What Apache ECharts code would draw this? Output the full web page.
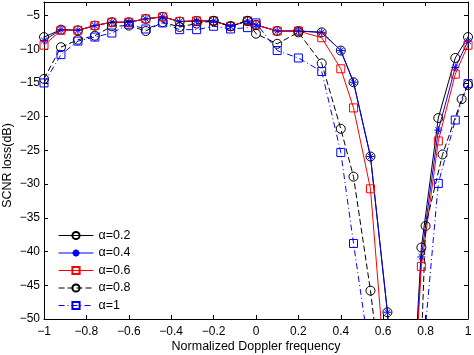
<!DOCTYPE html>
<html>
<head>
<meta charset="utf-8">
<script src="https://cdn.jsdelivr.net/npm/echarts@6/dist/echarts.min.js"></script>
<style>
html,body{margin:0;padding:0;background:#fff;}
#chart{width:474px;height:355px;}
</style>
</head>
<body>
<div id="chart"></div>
<script>
// Normalized Doppler frequency sample positions
const xMain = [-1, -0.92, -0.84, -0.76, -0.68, -0.6, -0.52, -0.44, -0.36, -0.28, -0.2, -0.12, -0.04, 0, 0.1, 0.2, 0.31, 0.4, 0.46, 0.54, 0.62, 0.70, 0.78, 0.86, 0.94, 1];
const xAlt  = [-1, -0.92, -0.84, -0.76, -0.68, -0.6, -0.52, -0.44, -0.36, -0.28, -0.2, -0.12, -0.04, 0, 0.1, 0.2, 0.31, 0.4, 0.46, 0.54, 0.62, 0.72, 0.80, 0.88, 0.97, 1];

// SCNR loss (dB) per alpha
const y02 = [-8.2, -7.1, -7.2, -6.5, -6.0, -6.0, -5.5, -5.2, -5.9, -5.8, -5.8, -6.6, -5.8, -6.4, -7.3, -7.3, -7.5, -10.2, -14.9, -25.9, -49.0, -85, -39.4, -20.2, -11.3, -8.2];
const y04 = [-8.7, -7.1, -7.2, -6.5, -6.0, -6.0, -5.5, -5.2, -5.9, -5.8, -5.8, -6.6, -5.8, -6.4, -7.3, -7.3, -7.5, -10.2, -14.9, -25.9, -49.0, -85, -40.8, -22.0, -12.7, -8.8];
const y06 = [-9.4, -7.2, -7.2, -6.5, -6.0, -6.0, -5.5, -5.2, -5.9, -5.8, -5.8, -6.6, -5.8, -6.4, -7.3, -7.3, -8.3, -12.9, -18.7, -30.7, -62, -86, -42.2, -23.6, -13.7, -9.4];
const y08 = [-14.4, -9.7, -8.6, -8.0, -6.6, -6.5, -7.3, -6.0, -6.7, -6.2, -5.8, -6.6, -5.8, -7.7, -9.2, -7.5, -12.1, -21.8, -28.9, -45.8, -66.5, -107, -36.2, -25.6, -17.4, -15.3];
const y10 = [-15.0, -10.8, -8.8, -8.2, -7.6, -6.3, -7.0, -6.1, -7.1, -7.1, -6.6, -7.0, -6.8, -6.1, -10.2, -11.3, -13.3, -25.3, -38.8, -56, -80, -85, -58, -29.9, -20.5, -15.1];

const seriesNames = ['α=0.2', 'α=0.4', 'α=0.6', 'α=0.8', 'α=1'];

const xLabel = 'Normalized Doppler frequency';
const yLabel = 'SCNR loss(dB)';

const FONT = 'Liberation Sans, Arial, Helvetica, sans-serif';
const STAR = 'path://M0,-5L0,5M-5,0L5,0M-3.5,-3.5L3.5,3.5M-3.5,3.5L3.5,-3.5';

function pairs(xs, ys) { return xs.map((x, i) => [x, ys[i]]); }
function fmt(v) {
  const r = Math.round(v * 10) / 10;
  return String(r).replace('-', '\u2212');
}

function mk(name, xs, ys, color, symbol, size, dash) {
  return {
    name: name,
    type: 'line',
    data: pairs(xs, ys),
    symbol: symbol,
    symbolSize: size,
    symbolKeepAspect: true,
    showSymbol: true,
    clip: true,
    animation: false,
    lineStyle: { color: color, width: 1, type: dash },
    itemStyle: { color: 'transparent', borderColor: color, borderWidth: 1 },
    emphasis: { disabled: true }
  };
}

const chart = echarts.init(document.getElementById('chart'), null, { renderer: 'canvas' });
const axisCommon = {
  axisLine: { show: true, onZero: false, lineStyle: { color: '#000', width: 1 } },
  axisTick: { show: true, inside: true, length: 4, lineStyle: { color: '#000' } },
  splitLine: { show: false }
};

chart.setOption({
  animation: false,
  backgroundColor: '#fff',
  textStyle: { fontFamily: FONT },
  grid: { left: 44, right: 6, top: 2, bottom: 36, containLabel: false, outerBoundsMode: 'none' },
  xAxis: [
    Object.assign({
      type: 'value', min: -1, max: 1, interval: 0.2, position: 'bottom',
      name: xLabel, nameLocation: 'middle', nameGap: 21, nameMoveOverlap: false,
      nameTextStyle: { fontSize: 12.5, color: '#000', fontFamily: FONT },
      axisLabel: { show: true, margin: 7, fontSize: 12, color: '#000', fontFamily: FONT, formatter: fmt }
    }, axisCommon),
    Object.assign({
      type: 'value', min: -1, max: 1, interval: 0.2, position: 'top',
      axisLabel: { show: false }
    }, axisCommon)
  ],
  yAxis: [
    Object.assign({
      type: 'value', min: -50, max: -3, interval: 5, position: 'left',
      name: yLabel, nameLocation: 'middle', nameGap: 30, nameMoveOverlap: false,
      nameTextStyle: { fontSize: 12.5, color: '#000', fontFamily: FONT, padding: [0, 10, 0, 0] },
      axisLabel: { show: true, margin: 4, fontSize: 12, color: '#000', fontFamily: FONT, formatter: fmt, showMaxLabel: false }
    }, axisCommon),
    Object.assign({
      type: 'value', min: -50, max: -3, interval: 5, position: 'right',
      axisLabel: { show: false }
    }, axisCommon)
  ],
  legend: {
    orient: 'vertical',
    left: 58, top: 229,
    padding: 0,
    itemWidth: 35, itemHeight: 9, itemGap: 4.5,
    selectedMode: false,
    lineStyle: { width: 1 },
    textStyle: { fontSize: 12.5, color: '#000', fontFamily: FONT },
    data: seriesNames
  },
  series: [
    mk(seriesNames[0], xMain, y02, '#000000', 'circle', 9, 'solid'),
    mk(seriesNames[1], xMain, y04, '#0000ff', STAR, 8, 'solid'),
    mk(seriesNames[2], xMain, y06, '#ff0000', 'rect', 8, 'solid'),
    mk(seriesNames[3], xAlt, y08, '#000000', 'circle', 9, [6, 3]),
    mk(seriesNames[4], xMain, y10, '#0000ff', 'rect', 8, [6, 3, 1, 3])
  ]
});
</script>
</body>
</html>
